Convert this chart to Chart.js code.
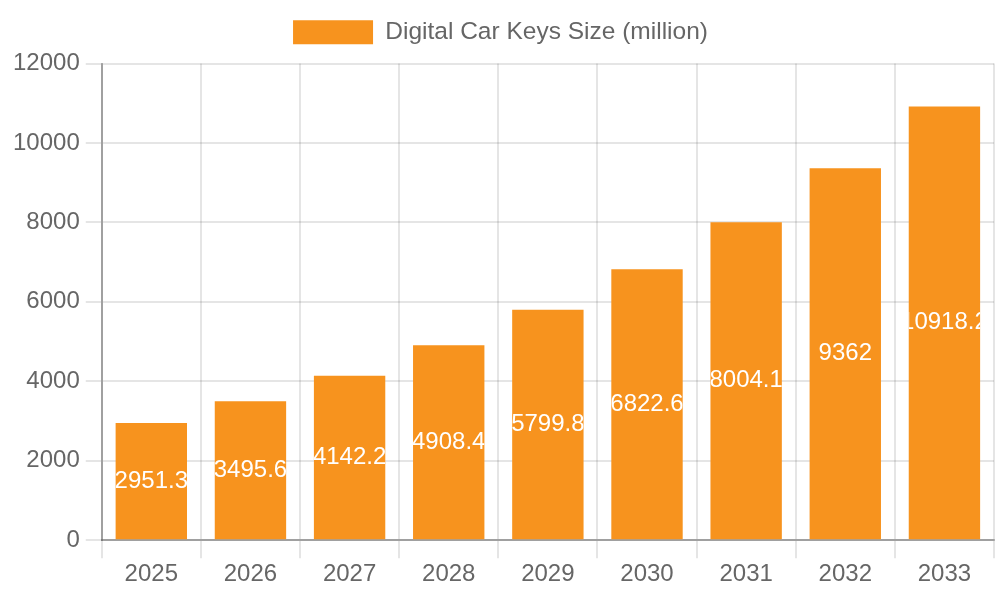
<!DOCTYPE html>
<html>
<head>
<meta charset="utf-8">
<style>
html,body{margin:0;padding:0;background:#fff;overflow:hidden;}
#wrap{width:1000px;height:600px;position:relative;}
</style>
<script src="https://cdn.jsdelivr.net/npm/chart.js@4/dist/chart.umd.min.js"></script>
</head>
<body>
<div id="wrap"><canvas id="c"></canvas></div>
<script>
const categories = ['2025','2026','2027','2028','2029','2030','2031','2032','2033'];
const sizeValues = [2951.3, 3495.6, 4142.2, 4908.4, 5799.8, 6822.6, 8004.1, 9362, 10918.2];
const seriesLabel = 'Digital Car Keys Size (million)';
const barColor = '#F7931E';

Chart.defaults.font.family = '"Liberation Sans", Arial, sans-serif';
Chart.defaults.font.size = 24;
Chart.defaults.color = '#666';

const labelPlugin = {
  id: 'barLabels',
  afterDatasetsDraw(chart) {
    const ctx = chart.ctx;
    const meta = chart.getDatasetMeta(0);
    meta.data.forEach((bar, i) => {
      const p = bar.getProps(['x','y','base','width'], true);
      const left = p.x - p.width/2;
      const top = Math.min(p.y, p.base);
      const h = Math.abs(p.base - p.y);
      ctx.save();
      ctx.beginPath();
      ctx.rect(left, top, p.width, h);
      ctx.clip();
      ctx.fillStyle = '#fff';
      ctx.font = '24px "Liberation Sans", Arial, sans-serif';
      ctx.textAlign = 'center';
      ctx.textBaseline = 'middle';
      ctx.fillText(String(sizeValues[i]), p.x, top + h/2);
      ctx.restore();
    });
  }
};

const legendSpace = {
  id: 'legendSpace',
  beforeInit(chart) {
    const origFit = chart.legend.fit;
    chart.legend.fit = function() {
      origFit.bind(chart.legend)();
      this.height += 9;
    };
  }
};

new Chart(document.getElementById('c'), {
  type: 'bar',
  data: {
    labels: categories,
    datasets: [{
      label: seriesLabel,
      data: sizeValues,
      backgroundColor: barColor,
      borderWidth: 0
    }]
  },
  options: {
    responsive: true,
    maintainAspectRatio: false,
    animation: false,
    layout: { padding: { left: 7, right: 6, bottom: 9 } },
    plugins: {
      legend: {
        display: true,
        position: 'top',
        labels: { boxWidth: 80, boxHeight: 24, padding: 20, font: { size: 24.5 } }
      },
      tooltip: { enabled: false }
    },
    scales: {
      x: {
        grid: { color: 'rgba(0,0,0,0.1)', lineWidth: 2, tickLength: 18 },
        border: { color: 'rgba(0,0,0,0.3)', width: 2 },
        ticks: { padding: 2 }
      },
      y: {
        min: 0,
        max: 12000,
        ticks: { stepSize: 2000, padding: 6, callback: v => String(v) },
        grid: { color: 'rgba(0,0,0,0.1)', lineWidth: 2, tickLength: 16 },
        border: { color: 'rgba(0,0,0,0.3)', width: 2 }
      }
    }
  },
  plugins: [labelPlugin, legendSpace]
});
</script>
</body>
</html>
